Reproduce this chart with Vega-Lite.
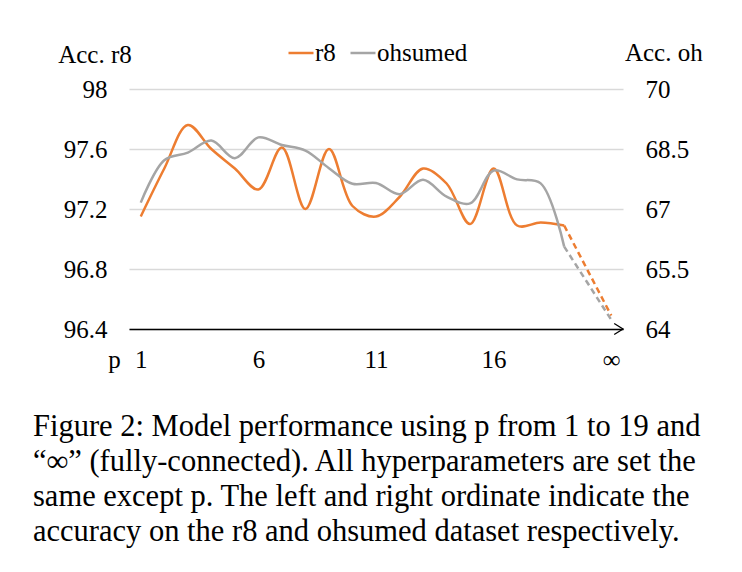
{
  "$schema": "https://vega.github.io/schema/vega-lite/v6.json",
  "width": 494,
  "height": 240,
  "autosize": {"type": "none"},
  "padding": {"left": 129, "top": 89, "right": 119, "bottom": 243},
  "background": "white",
  "config": {
    "view": {"stroke": null},
    "font": "Liberation Serif",
    "axis": {"labelFont": "Liberation Serif", "titleFont": "Liberation Serif", "labelColor": "black", "titleColor": "black", "labelFontSize": 25, "titleFontSize": 25, "titleFontWeight": "normal", "ticks": false},
    "legend": {"labelFont": "Liberation Serif"}
  },
  "title": {
    "text": [
      "Figure 2: Model performance using p from 1 to 19 and",
      "“∞” (fully-connected). All hyperparameters are set the",
      "same except p. The left and right ordinate indicate the",
      "accuracy on the r8 and ohsumed dataset respectively."
    ],
    "orient": "bottom",
    "anchor": "start",
    "frame": "group",
    "dx": -96,
    "offset": 40,
    "baseline": "top",
    "fontSize": 30.5,
    "lineHeight": 35,
    "font": "Liberation Serif",
    "fontWeight": "normal",
    "color": "black"
  },
  "data": {
    "values": [
      {"p": 1, "r8": 97.15, "oh": 67.16},
      {"p": 2, "r8": 97.47, "oh": 68.22},
      {"p": 3, "r8": 97.76, "oh": 68.41},
      {"p": 4, "r8": 97.6, "oh": 68.71},
      {"p": 5, "r8": 97.47, "oh": 68.27},
      {"p": 6, "r8": 97.33, "oh": 68.79},
      {"p": 7, "r8": 97.61, "oh": 68.6},
      {"p": 8, "r8": 97.2, "oh": 68.46},
      {"p": 9, "r8": 97.6, "oh": 68.02},
      {"p": 10, "r8": 97.22, "oh": 67.63},
      {"p": 11, "r8": 97.15, "oh": 67.65},
      {"p": 12, "r8": 97.28, "oh": 67.37},
      {"p": 13, "r8": 97.47, "oh": 67.73},
      {"p": 14, "r8": 97.37, "oh": 67.31},
      {"p": 15, "r8": 97.1, "oh": 67.14},
      {"p": 16, "r8": 97.47, "oh": 67.96},
      {"p": 17, "r8": 97.09, "oh": 67.74},
      {"p": 18, "r8": 97.11, "oh": 67.64},
      {"p": 19, "r8": 97.09, "oh": 66.06},
      {"p": 21, "r8": 96.49, "oh": 64.23}
    ]
  },
  "encoding": {
    "x": {
      "field": "p",
      "type": "quantitative",
      "scale": {"domain": [0.5, 21.5], "nice": false, "zero": false},
      "axis": {
        "values": [1, 6, 11, 16, 21],
        "labelExpr": "datum.value == 21 ? '∞' : datum.label",
        "labelFont": "Liberation Serif",
        "titleFont": "Liberation Serif",
        "grid": false,
        "domainColor": "black",
        "domainWidth": 1.3,
        "labelPadding": 18,
        "title": "p",
        "titleX": -15,
        "titleY": 38,
        "titleAlign": "center",
        "titleBaseline": "alphabetic"
      }
    }
  },
  "layer": [
    {
      "layer": [
        {
          "transform": [{"filter": "datum.p <= 19"}],
          "mark": {"type": "line", "interpolate": "catmull-rom", "strokeWidth": 2.5},
          "encoding": {
            "y": {
              "field": "r8",
              "type": "quantitative",
              "title": "Acc. r8",
              "scale": {"domain": [96.4, 98], "nice": false, "zero": false},
              "axis": {
                "values": [96.4, 96.8, 97.2, 97.6, 98],
                "labelExpr": "'' + datum.value",
                "labelFont": "Liberation Serif",
                "titleFont": "Liberation Serif",
                "domain": false,
                "grid": true,
                "gridColor": "#d9d9d9",
                "gridWidth": 1.3,
                "labelPadding": 22,
                "titleAngle": 0,
                "titleX": -34.5,
                "titleY": -27,
                "titleAlign": "center",
                "titleBaseline": "alphabetic"
              }
            },
            "color": {
              "datum": "r8",
              "type": "nominal",
              "scale": {"domain": ["r8", "ohsumed"], "range": ["#ED7D31", "#A5A5A5"]},
              "legend": {
                "orient": "none",
                "legendX": 158,
                "legendY": -50,
                "direction": "horizontal",
                "title": null,
                "symbolType": "stroke",
                "symbolSize": 625,
                "symbolStrokeWidth": 2.5,
                "labelFont": "Liberation Serif",
                "labelFontSize": 25,
                "labelColor": "black",
                "labelOffset": 0,
                "columnPadding": 9,
                "padding": 0
              }
            }
          }
        },
        {
          "transform": [{"filter": "datum.p >= 19"}],
          "mark": {"type": "line", "strokeWidth": 2.5, "strokeDash": [6, 4]},
          "encoding": {
            "y": {"field": "r8", "type": "quantitative", "title": "Acc. r8"},
            "color": {"datum": "r8", "type": "nominal"}
          }
        },
        {
          "transform": [{"filter": "datum.p == 21"}],
          "mark": {"type": "point", "shape": "M-1.6,-1L0,0L-1.6,1", "filled": false, "size": 121, "stroke": "black", "strokeWidth": 1.3, "opacity": 1},
          "encoding": {
            "x": {"datum": 21.5, "type": "quantitative"},
            "y": {"datum": 96.4, "type": "quantitative", "title": "Acc. r8"}
          }
        }
      ]
    },
    {
      "layer": [
        {
          "transform": [{"filter": "datum.p <= 19"}],
          "mark": {"type": "line", "interpolate": "catmull-rom", "strokeWidth": 2.5},
          "encoding": {
            "y": {
              "field": "oh",
              "type": "quantitative",
              "title": "Acc. oh",
              "scale": {"domain": [64, 70], "nice": false, "zero": false},
              "axis": {
                "orient": "right",
                "values": [64, 65.5, 67, 68.5, 70],
                "labelExpr": "'' + datum.value",
                "labelFont": "Liberation Serif",
                "titleFont": "Liberation Serif",
                "domain": false,
                "grid": false,
                "labelPadding": 22,
                "titleAngle": 0,
                "titleX": 40.3,
                "titleY": -29,
                "titleAlign": "center",
                "titleBaseline": "alphabetic"
              }
            },
            "color": {"datum": "ohsumed", "type": "nominal"}
          }
        },
        {
          "transform": [{"filter": "datum.p >= 19"}],
          "mark": {"type": "line", "strokeWidth": 2.5, "strokeDash": [6, 4]},
          "encoding": {
            "y": {"field": "oh", "type": "quantitative", "title": "Acc. oh"},
            "color": {"datum": "ohsumed", "type": "nominal"}
          }
        }
      ]
    }
  ],
  "resolve": {"scale": {"y": "independent"}}
}
